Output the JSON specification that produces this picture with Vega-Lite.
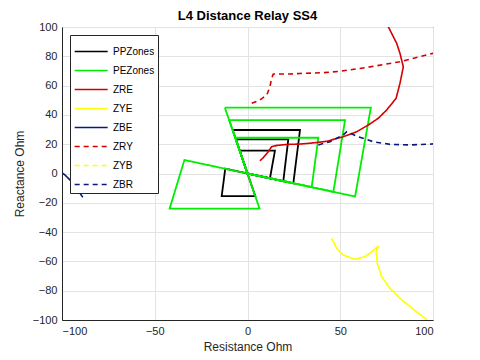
{
  "$schema": "https://vega.github.io/schema/vega-lite/v6.json",
  "width": 371,
  "height": 293,
  "autosize": "none",
  "padding": {"left": 62, "top": 27, "right": 47, "bottom": 40},
  "title": {"text": "L4 Distance Relay SS4", "fontSize": 13, "fontWeight": "bold", "font": "Liberation Sans", "color": "#000000", "offset": -2, "anchor": "middle"},
  "data": {"values": [
    {"s":"PPZones","z":"p1","o":0,"R":0,"X":0},
    {"s":"PPZones","z":"p1","o":1,"R":-12,"X":3.3},
    {"s":"PPZones","z":"p1","o":2,"R":-13.9,"X":-15.4},
    {"s":"PPZones","z":"p1","o":3,"R":4.2,"X":-15.4},
    {"s":"PPZones","z":"p1","o":4,"R":0,"X":0},
    {"s":"PPZones","z":"p2","o":0,"R":-4.2,"X":15.6},
    {"s":"PPZones","z":"p2","o":1,"R":14.8,"X":15.6},
    {"s":"PPZones","z":"p2","o":2,"R":12.1,"X":-3.3},
    {"s":"PPZones","z":"p2","o":3,"R":0,"X":0},
    {"s":"PPZones","z":"p2","o":4,"R":-4.2,"X":15.6},
    {"s":"PPZones","z":"p3","o":0,"R":-6.3,"X":23.3},
    {"s":"PPZones","z":"p3","o":1,"R":22.0,"X":23.3},
    {"s":"PPZones","z":"p3","o":2,"R":19.3,"X":-5.2},
    {"s":"PPZones","z":"p3","o":3,"R":0,"X":0},
    {"s":"PPZones","z":"p3","o":4,"R":-6.3,"X":23.3},
    {"s":"PPZones","z":"p4","o":0,"R":-8.0,"X":29.7},
    {"s":"PPZones","z":"p4","o":1,"R":28.3,"X":29.7},
    {"s":"PPZones","z":"p4","o":2,"R":24.7,"X":-6.7},
    {"s":"PPZones","z":"p4","o":3,"R":0,"X":0},
    {"s":"PPZones","z":"p4","o":4,"R":-8.0,"X":29.7},
    {"s":"PEZones","z":"e1","o":0,"R":-12.2,"X":45},
    {"s":"PEZones","z":"e1","o":1,"R":66.5,"X":45},
    {"s":"PEZones","z":"e1","o":2,"R":58,"X":-15.7},
    {"s":"PEZones","z":"e1","o":3,"R":-34,"X":9.2},
    {"s":"PEZones","z":"e1","o":4,"R":-42,"X":-24},
    {"s":"PEZones","z":"e1","o":5,"R":6.5,"X":-24},
    {"s":"PEZones","z":"e1","o":6,"R":-12.2,"X":45},
    {"s":"PEZones","z":"e2","o":0,"R":-9.9,"X":36.5},
    {"s":"PEZones","z":"e2","o":1,"R":52.6,"X":36.5},
    {"s":"PEZones","z":"e2","o":2,"R":46.3,"X":-12.5},
    {"s":"PEZones","z":"e2","o":3,"R":0,"X":0},
    {"s":"PEZones","z":"e2","o":4,"R":-9.9,"X":36.5},
    {"s":"PEZones","z":"e3","o":0,"R":-6.6,"X":24.4},
    {"s":"PEZones","z":"e3","o":1,"R":38.2,"X":24.4},
    {"s":"PEZones","z":"e3","o":2,"R":34.6,"X":-9.3},
    {"s":"PEZones","z":"e3","o":3,"R":0,"X":0},
    {"s":"PEZones","z":"e3","o":4,"R":-6.6,"X":24.4},
    {"s":"ZRE","z":"re","o":0,"R":6.7,"X":8.7},
    {"s":"ZRE","z":"re","o":1,"R":8.5,"X":10.8},
    {"s":"ZRE","z":"re","o":2,"R":11.2,"X":14.9},
    {"s":"ZRE","z":"re","o":3,"R":13.0,"X":18.3},
    {"s":"ZRE","z":"re","o":4,"R":16.0,"X":19.2},
    {"s":"ZRE","z":"re","o":5,"R":22.0,"X":19.9},
    {"s":"ZRE","z":"re","o":6,"R":28.3,"X":20.1},
    {"s":"ZRE","z":"re","o":7,"R":36.4,"X":21.0},
    {"s":"ZRE","z":"re","o":8,"R":42.7,"X":22.0},
    {"s":"ZRE","z":"re","o":9,"R":51.6,"X":25.1},
    {"s":"ZRE","z":"re","o":10,"R":58.9,"X":28.5},
    {"s":"ZRE","z":"re","o":11,"R":65.1,"X":33.1},
    {"s":"ZRE","z":"re","o":12,"R":70.5,"X":37.7},
    {"s":"ZRE","z":"re","o":13,"R":75.0,"X":43.3},
    {"s":"ZRE","z":"re","o":14,"R":80.1,"X":51.3},
    {"s":"ZRE","z":"re","o":15,"R":82.2,"X":61.6},
    {"s":"ZRE","z":"re","o":16,"R":84.0,"X":72.8},
    {"s":"ZRE","z":"re","o":17,"R":82.2,"X":82.0},
    {"s":"ZRE","z":"re","o":18,"R":80.4,"X":88.9},
    {"s":"ZRE","z":"re","o":19,"R":75.9,"X":100.2},
    {"s":"ZRE","z":"re","o":20,"R":74.5,"X":104},
    {"s":"ZYE","z":"ye","o":0,"R":45.4,"X":-44.2},
    {"s":"ZYE","z":"ye","o":1,"R":48.1,"X":-51.1},
    {"s":"ZYE","z":"ye","o":2,"R":51.6,"X":-55.6},
    {"s":"ZYE","z":"ye","o":3,"R":57.9,"X":-58.6},
    {"s":"ZYE","z":"ye","o":4,"R":63.3,"X":-56.8},
    {"s":"ZYE","z":"ye","o":5,"R":67.0,"X":-53.4},
    {"s":"ZYE","z":"ye","o":6,"R":70.5,"X":-49.5},
    {"s":"ZYE","z":"ye","o":7,"R":69.3,"X":-53.4},
    {"s":"ZYE","z":"ye","o":8,"R":70.0,"X":-61.3},
    {"s":"ZYE","z":"ye","o":9,"R":72.3,"X":-70.4},
    {"s":"ZYE","z":"ye","o":10,"R":76.8,"X":-78.4},
    {"s":"ZYE","z":"ye","o":11,"R":82.2,"X":-85.2},
    {"s":"ZYE","z":"ye","o":12,"R":89.4,"X":-92.7},
    {"s":"ZYE","z":"ye","o":13,"R":95.7,"X":-98.8},
    {"s":"ZYE","z":"ye","o":14,"R":97.5,"X":-101},
    {"s":"ZBE","z":"be","o":0,"R":-102,"X":1.7},
    {"s":"ZBE","z":"be","o":1,"R":-100,"X":0.5},
    {"s":"ZBE","z":"be","o":2,"R":-98.4,"X":-1},
    {"s":"ZBE","z":"be","o":3,"R":-95.7,"X":-4.4},
    {"s":"ZBE","z":"be","o":4,"R":-93,"X":-9},
    {"s":"ZBE","z":"be","o":5,"R":-90.3,"X":-13.5},
    {"s":"ZBE","z":"be","o":6,"R":-88.8,"X":-16.2},
    {"s":"ZRY","z":"ry","o":0,"R":2.3,"X":47.9},
    {"s":"ZRY","z":"ry","o":1,"R":6.7,"X":50.2},
    {"s":"ZRY","z":"ry","o":2,"R":10.4,"X":53.6},
    {"s":"ZRY","z":"ry","o":3,"R":12.1,"X":59.2},
    {"s":"ZRY","z":"ry","o":4,"R":13.0,"X":65.0},
    {"s":"ZRY","z":"ry","o":5,"R":13.9,"X":67.9},
    {"s":"ZRY","z":"ry","o":6,"R":22.9,"X":67.9},
    {"s":"ZRY","z":"ry","o":7,"R":28.3,"X":68.3},
    {"s":"ZRY","z":"ry","o":8,"R":40.9,"X":68.8},
    {"s":"ZRY","z":"ry","o":9,"R":50.0,"X":69.8},
    {"s":"ZRY","z":"ry","o":10,"R":64.3,"X":72.4},
    {"s":"ZRY","z":"ry","o":11,"R":82.2,"X":76.3},
    {"s":"ZRY","z":"ry","o":12,"R":100,"X":82},
    {"s":"ZRY","z":"ry","o":13,"R":102,"X":82.6},
    {"s":"ZBR","z":"br","o":0,"R":38.2,"X":19.5},
    {"s":"ZBR","z":"br","o":1,"R":44.5,"X":21.7},
    {"s":"ZBR","z":"br","o":2,"R":51.6,"X":26.3},
    {"s":"ZBR","z":"br","o":3,"R":53.5,"X":28.5},
    {"s":"ZBR","z":"br","o":4,"R":59.7,"X":25.1},
    {"s":"ZBR","z":"br","o":5,"R":67.8,"X":21.7},
    {"s":"ZBR","z":"br","o":6,"R":76.8,"X":19.9},
    {"s":"ZBR","z":"br","o":7,"R":87.6,"X":19.5},
    {"s":"ZBR","z":"br","o":8,"R":99.3,"X":20.1},
    {"s":"ZBR","z":"br","o":9,"R":101,"X":20.4}
  ]},
  "encoding": {
    "x": {"field": "R", "type": "quantitative", "scale": {"domain": [-100, 100], "nice": false, "zero": false},
      "axis": {"title": "Resistance Ohm", "values": [-100, -50, 0, 50, 100], "titlePadding": 5}},
    "y": {"field": "X", "type": "quantitative", "scale": {"domain": [-100, 100], "nice": false, "zero": false},
      "axis": {"title": "Reactance Ohm", "values": [-100, -80, -60, -40, -20, 0, 20, 40, 60, 80, 100], "titlePadding": 6}},
    "color": {"field": "s", "type": "nominal",
      "scale": {"domain": ["PPZones", "PEZones", "ZRE", "ZYE", "ZBE", "ZRY", "ZYB", "ZBR"],
        "range": ["#000000", "#00ee00", "#d40000", "#ffff00", "#0a1a7a", "#d40000", "#ffff00", "#0a1a7a"]},
      "legend": {"title": null, "orient": "top-left", "offset": 8}},
    "strokeDash": {"field": "s", "type": "nominal",
      "scale": {"domain": ["PPZones", "PEZones", "ZRE", "ZYE", "ZBE", "ZRY", "ZYB", "ZBR"],
        "range": [[1, 0], [1, 0], [1, 0], [1, 0], [1, 0], [5, 4], [5, 4], [5, 4]]},
      "legend": {"title": null, "orient": "top-left", "offset": 8}},
    "detail": {"field": "z"},
    "order": {"field": "o", "type": "quantitative"}
  },
  "layer": [
    {"transform": [{"filter": "datum.s == 'PPZones'"}], "mark": {"type": "line", "clip": true, "strokeWidth": 1.8}},
    {"transform": [{"filter": "datum.s == 'PEZones'"}], "mark": {"type": "line", "clip": true, "strokeWidth": 1.8}},
    {"transform": [{"filter": "datum.s != 'PPZones' && datum.s != 'PEZones'"}], "mark": {"type": "line", "clip": true, "strokeWidth": 1.6}}
  ],
  "config": {
    "font": "Liberation Sans",
    "view": {"stroke": "#262626", "strokeWidth": 1},
    "axis": {"grid": true, "gridColor": "#e3e3e3", "domainColor": "#262626", "ticks": false, "labelPadding": 5,
      "labelFontSize": 11, "labelColor": "#262626", "titleFontSize": 12, "titleColor": "#262626", "titleFontWeight": "normal", "labelFont": "Liberation Sans", "titleFont": "Liberation Sans"},
    "legend": {"symbolType": "M-0.95,0L1.7,0", "symbolSize": 620, "symbolStrokeWidth": 1.6, "symbolFillColor": "transparent", "labelFontSize": 10, "labelColor": "#000000",
      "rowPadding": 0, "padding": 3, "strokeColor": "#262626", "fillColor": "#ffffff", "labelOffset": 13, "cornerRadius": 0}
  }
}
